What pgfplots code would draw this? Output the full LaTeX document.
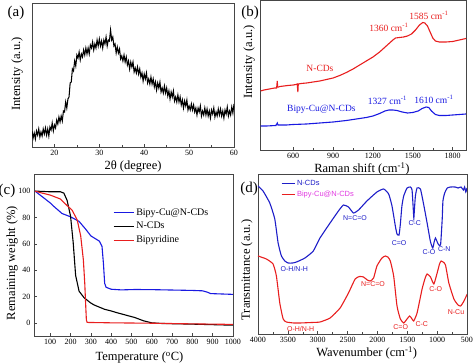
\documentclass[border=0pt]{standalone}
\usepackage{fontspec}
\setmainfont{Liberation Serif}
\newfontfamily\arialf{Liberation Sans}
\usepackage{pgfplots}
\pgfplotsset{compat=1.18}
\definecolor{myred}{RGB}{232,30,30}
\definecolor{myblue}{RGB}{25,25,225}
\definecolor{dblue}{RGB}{30,30,200}
\definecolor{mag}{RGB}{225,60,225}
\definecolor{frame}{RGB}{70,70,70}
\pgfplotsset{
 every axis/.append style={
  scale only axis,
  anchor=south west,
  axis line style={frame, line width=0.6pt},
  tick style={frame, line width=0.5pt},
  major tick length=3pt, minor tick length=1.8pt,
  xtick pos=left, ytick pos=left,
  tick label style={font=\fontsize{8}{9}\selectfont},
  label style={font=\fontsize{12.5}{14}\selectfont},
  /pgf/number format/assume math mode=true,
  /pgf/number format/1000 sep={},
  scaled ticks=false,
 },
}
\begin{document}
\begin{tikzpicture}
\useasboundingbox (0,0) rectangle (474pt,363pt);
% ---------------- (a) XRD
\begin{axis}[at={(32pt,216pt)}, width=202pt, height=144pt,
  xmin=15, xmax=60, ymin=0, ymax=144,
  xtick={20,30,40,50,60}, minor x tick num=1, ytick=\empty,
  xlabel={2θ (degree)}, ylabel={Intensity (a.u.)},
  xlabel style={at={(axis description cs:0.5,-0.135)},anchor=center},
  ylabel style={at={(axis description cs:-0.074,0.507)},anchor=center}]
\addplot[black, line width=1.05pt] table {
15.00 16
15.25 9
15.5 14
15.75 8
16.0 16
16.25 12
16.5 18
16.75 10
17.0 15
17.25 11
17.5 18
17.75 13
18.0 19
18.25 12
18.5 18
18.75 11
19.0 20
19.25 17
19.5 24
19.75 16
20.0 22
20.25 19
20.5 27
20.75 23
21.0 30
21.25 25
21.5 31
21.75 26
22.0 36
22.25 35
22.5 45
22.75 39
23.0 48
23.25 50
23.5 64
23.75 65
24.0 78
24.25 76
24.5 86
24.75 81
25.0 92
25.25 89
25.5 95
25.75 87
26.0 93
26.25 90
26.5 97
26.75 92
27.0 99
27.25 93
27.5 99
27.75 93
28.0 102
28.25 99
28.5 105
28.75 97
29.0 103
29.25 99
29.5 107
29.75 101
30.0 108
30.25 101
30.5 106
30.75 99
31.0 107
31.25 103
31.5 110
31.75 101
32.0 107
32.25 106
32.5 117
32.75 107
33.0 110
33.25 101
33.5 103
33.75 94
34.0 100
34.25 94
34.5 98
34.75 88
35.0 91
35.25 86
35.5 92
35.75 85
36.0 90
36.25 82
36.5 86
36.75 78
37.0 85
37.25 80
37.5 85
37.75 75
38.0 79
38.25 74
38.5 80
38.75 73
39.0 78
39.25 70
39.5 74
39.75 66
40.0 73
40.25 68
40.5 74
40.75 64
41.0 68
41.25 63
41.5 70
41.75 63
42.0 68
42.25 60
42.5 65
42.75 57
43.0 64
43.25 59
43.5 65
43.75 55
44.0 59
44.25 54
44.5 61
44.75 54
45.0 59
45.25 51
45.5 56
45.75 48
46.0 55
46.25 50
46.5 56
46.75 46
47.0 50
47.25 45
47.5 52
47.75 45
48.0 50
48.25 42
48.5 47
48.75 39
49.0 46
49.25 41
49.5 47
49.75 37
50.0 41
50.25 37
50.5 43
50.75 37
51.0 42
51.25 35
51.5 39
51.75 32
52.0 39
52.25 35
52.5 41
52.75 31
53.0 36
53.25 32
53.5 39
53.75 32
54.0 38
54.25 31
54.5 36
54.75 29
55.0 37
55.25 33
55.5 39
55.75 30
56.0 35
56.25 31
56.5 38
56.75 32
57.0 38
57.25 31
57.5 36
57.75 29
58.0 37
58.25 33
58.5 40
58.75 31
59.0 36
59.25 32
59.5 40
59.75 34
60.0 43
};
\end{axis}
% ---------------- (b) Raman
\begin{axis}[at={(260pt,213pt)}, width=206pt, height=150pt,
  xmin=350, xmax=1900, ymin=0, ymax=150,
  xtick={600,900,1200,1500,1800}, minor x tick num=1, ytick=\empty,
  xlabel={Raman shift (cm\textsuperscript{-1})}, ylabel={Intensity (a.u.)},
  xlabel style={at={(axis description cs:0.495,-0.128)},anchor=center},
  ylabel style={at={(axis description cs:-0.053,0.587)},anchor=center}]
\addplot[myred, line width=1.1pt] coordinates {
(355,59) (380,60) (400,60.5) (420,61) (440,61.5) (460,62) (475,62) (480,69) (483,63) (490,63)
(500,63.5) (530,64) (560,64.5) (600,65) (620,65.5) (630,66) (635,58) (638,66) (660,66.5)
(700,67) (750,68) (800,69) (850,70.5) (900,72) (950,74.5) (1000,77.5) (1050,81) (1100,85)
(1150,89) (1200,93) (1250,98) (1300,104) (1350,110) (1370,112) (1400,112.5) (1430,113)
(1460,114) (1490,116) (1520,120) (1550,125) (1575,127.5) (1590,127) (1610,124) (1630,118)
(1650,112) (1670,109) (1700,108) (1750,108) (1800,108.5) (1850,110) (1900,111.5)};
\addplot[myblue, line width=1.1pt] coordinates {
(355,24) (400,24) (470,24.5) (480,27) (485,25) (550,25) (600,25.5) (700,26) (800,27) (900,28)
(1000,29.5) (1050,30.5) (1100,31.5) (1150,32.5) (1200,34) (1250,36.5) (1290,39) (1320,40)
(1350,40) (1380,39.5) (1420,38) (1460,37) (1500,37.5) (1540,39) (1570,41.5) (1600,43)
(1620,42.5) (1640,39) (1670,35.5) (1700,34.5) (1750,34.5) (1800,35) (1850,35.5) (1900,36)};
\begin{scope}[font=\fontsize{9.5}{10}\selectfont]
\node[text=myred] at (axis cs:1621,135) {1585 cm\textsuperscript{-1}};
\node[text=myred] at (axis cs:1320,123) {1360 cm\textsuperscript{-1}};
\node[text=myred] at (axis cs:801,82) {N-CDs};
\node[text=myblue] at (axis cs:812,41) {Bipy-Cu@N-CDs};
\node[text=myblue] at (axis cs:1309,50) {1327 cm\textsuperscript{-1}};
\node[text=myblue] at (axis cs:1658,51) {1610 cm\textsuperscript{-1}};
\end{scope}
\end{axis}
% ---------------- (c) TGA
\begin{axis}[at={(34pt,27pt)}, width=199pt, height=162pt,
  xmin=20, xmax=1000, ymin=-10, ymax=113,
  xtick={100,200,...,1000}, ytick={0,20,...,100},
  xlabel={Temperature (\textsuperscript{o}C)}, ylabel={Remaining weight (\%)},
  xlabel style={at={(axis description cs:0.53,-0.134)},anchor=center},
  ylabel style={at={(axis description cs:-0.11,0.45)},anchor=center},
  legend style={at={(axis description cs:0.397,0.80)}, anchor=north west, draw=none, fill=none,
    font=\fontsize{10}{11}\selectfont, row sep=1.5pt, inner sep=0pt, cells={anchor=west}},
  legend image code/.code={\draw[#1] (0pt,0pt) -- (20pt,0pt);}]
\addplot[myblue, line width=1.1pt] coordinates {
(25,100) (50,97) (67,95) (100,91) (117,88.5) (158,83) (200,80.5) (242,77) (275,71) (300,66)
(342,62) (355,58) (362,45) (368,30) (375,27) (400,25.5) (450,25) (517,25.3) (600,25.2)
(700,24.9) (800,24.6) (850,24.3) (875,23.2) (890,22.2) (1000,21.6)};
\addlegendentry{Bipy-Cu@N-CDs}
\addplot[black, line width=1.1pt] coordinates {
(25,100) (100,99.5) (150,99.5) (167,98.5) (183,93) (200,81) (213,61) (225,36) (242,24)
(267,19) (300,15) (317,13.5) (367,10.3) (400,9) (433,7.5) (517,4) (560,1.5) (600,0)
(650,-0.5) (800,-1) (1000,-1.8)};
\addlegendentry{N-CDs}
\addplot[myred, line width=1.1pt] coordinates {
(25,100) (60,98.5) (100,97) (150,94) (183,89) (208,85.5) (233,78) (250,66) (263,48)
(270,30) (275,12) (278,2) (282,0.3) (400,0) (600,-0.3) (800,-0.8) (1000,-1.2)};
\addlegendentry{Bipyridine}
\end{axis}
% ---------------- (d) FTIR
\begin{axis}[at={(258pt,29pt)}, width=209pt, height=160pt,
  x dir=reverse, xmin=500, xmax=4000, ymin=0, ymax=160,
  xtick={500,1000,...,4000}, minor x tick num=1, ytick=\empty,
  xlabel={Wavenumber (cm\textsuperscript{-1})}, ylabel={Transmittance (a.u.)},
  xlabel style={at={(axis description cs:0.52,-0.117)},anchor=center},
  ylabel style={at={(axis description cs:-0.053,0.40)},anchor=center},
  legend style={at={(axis description cs:0.109,0.975)}, anchor=north west, draw=none, fill=none,
    font=\arialf\fontsize{7.5}{8}\selectfont, row sep=0pt, inner sep=0pt, cells={anchor=west}},
  legend image code/.code={\draw[#1] (0pt,0pt) -- (13pt,0pt);}]
\addplot[dblue, line width=1.1pt, smooth, tension=0.3] coordinates {
(4000,148) (3916,143) (3803,131) (3719,115) (3663,91) (3608,78) (3550,73) (3495,71) (3420,71)
(3355,72) (3214,76) (3074,83) (2962,96) (2793,111) (2653,123) (2569,129) (2485,127) (2401,121)
(2316,124) (2176,133) (2008,142) (1896,145) (1812,140) (1756,128) (1700,108) (1672,100)
(1638,99) (1616,110) (1590,128) (1560,138) (1504,146) (1447,147) (1420,144) (1400,125)
(1390,116) (1380,125) (1364,138) (1336,146) (1280,145) (1224,129) (1168,111) (1111,92)
(1073,86) (1050,92) (1028,96) (1005,93) (983,90) (943,89) (915,115) (903,133) (874,141)
(830,146) (774,147) (700,147) (650,146) (600,147) (560,144) (540,147) (520,142) (500,146)};
\addlegendentry{\textcolor{dblue}{N-CDs}}
\addplot[myred, line width=1.1pt, smooth, tension=0.3] coordinates {
(4000,78) (3860,75) (3748,70) (3692,58) (3635,31) (3579,15) (3524,12) (3400,11) (3299,11)
(3100,11.5) (2962,12) (2793,16) (2625,26) (2485,41) (2373,55) (2300,57.5) (2233,57) (2170,54)
(2120,53) (2064,56) (2008,68) (1924,76) (1868,78) (1826,77) (1784,73) (1728,58) (1672,28)
(1616,15) (1560,11) (1504,15) (1460,18) (1420,15) (1392,13) (1336,21) (1252,45) (1200,56)
(1168,60) (1111,57) (1055,50) (1000,61) (960,70) (933,73) (900,72) (860,69) (804,51)
(719,35) (650,29) (606,28) (560,32) (495,40)};
\addlegendentry{\textcolor{mag}{Bipy-Cu@N-CDs}}
\begin{scope}[font=\arialf\fontsize{7}{8}\selectfont]
\node[text=dblue] at (axis cs:2375,116) {N=C=O};
\node[text=dblue] at (axis cs:1638,91) {C=O};
\node[text=dblue] at (axis cs:1375,111) {C-C};
\node[text=dblue] at (axis cs:1136,82) {C-O};
\node[text=dblue] at (axis cs:880,85) {C-N};
\node[text=dblue] at (axis cs:3392,65) {O-H/N-H};
\node[text=myred] at (axis cs:3285,5) {O-H/N-H};
\node[text=myred] at (axis cs:2074,50) {N=C=O};
\node[text=myred] at (axis cs:1610,7) {C=O};
\node[text=myred] at (axis cs:1258,10) {C-C};
\node[text=myred] at (axis cs:1024,45) {C-O};
\node[text=myred] at (axis cs:684,22) {N-Cu};
\end{scope}
\end{axis}
% panel letters
\begin{scope}[font=\fontsize{15}{16}\selectfont]
\node at (16pt,350pt) {(a)};
\node at (250pt,350pt) {(b)};
\node at (7pt,172pt) {(c)};
\node at (249pt,174pt) {(d)};
\end{scope}
\end{tikzpicture}
\end{document}
